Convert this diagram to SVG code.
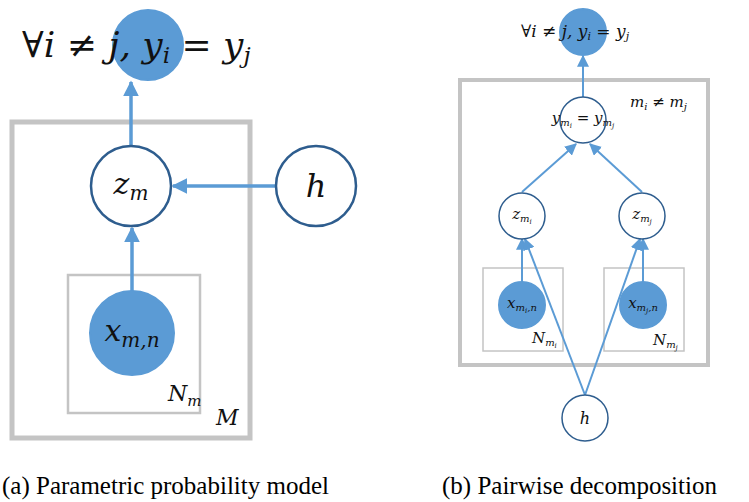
<svg xmlns="http://www.w3.org/2000/svg" width="749" height="502" viewBox="0 0 749 502">
<style>
.f{fill:#5B9BD5;stroke:#5B9BD5;stroke-width:2}
.o{fill:#fff;stroke:#2E5D8E;stroke-width:2.5}
.os{fill:#fff;stroke:#2E5D8E;stroke-width:1.5}
.b{fill:none;stroke:#C4C4C4}
.e{stroke:#5B9BD5;fill:none}
.m{font-family:"DejaVu Serif","Liberation Serif",serif;font-style:italic;fill:#111}
.c{font-family:"Liberation Serif",serif;font-size:25px;fill:#000}
</style>
<defs>
<marker id="a" viewBox="0 0 10 10" refX="9" refY="5" markerWidth="4.5" markerHeight="4.5" orient="auto"><path d="M0,0L10,5L0,10z" fill="#5B9BD5"/></marker>
<marker id="s" viewBox="0 0 10 10" refX="9" refY="5" markerWidth="6" markerHeight="6" orient="auto"><path d="M0,0L10,5L0,10z" fill="#5B9BD5"/></marker>
</defs>
<rect class="b" x="12" y="122" width="238" height="316" stroke-width="5"/>
<rect class="b" x="68" y="275" width="132" height="138" stroke-width="2.5"/>
<rect class="b" x="460" y="80" width="248" height="285" stroke-width="4"/>
<rect class="b" x="483" y="268" width="80" height="83" stroke-width="1.5"/>
<rect class="b" x="604" y="268" width="80" height="83" stroke-width="1.5"/>
<g id="connectors">
<line class="e" x1="131" y1="146" x2="131" y2="82" stroke-width="3.5" marker-end="url(#a)"/>
<line class="e" x1="276" y1="186" x2="173" y2="186" stroke-width="3.5" marker-end="url(#a)"/>
<line class="e" x1="132" y1="291" x2="132" y2="228" stroke-width="3.5" marker-end="url(#a)"/>
<line class="e" x1="583" y1="97" x2="583" y2="56" stroke-width="2" marker-end="url(#s)"/>
<line class="e" x1="522" y1="192" x2="576" y2="144" stroke-width="2" marker-end="url(#s)"/>
<line class="e" x1="642" y1="192" x2="590" y2="144" stroke-width="2" marker-end="url(#s)"/>
<line class="e" x1="522" y1="282" x2="522" y2="239" stroke-width="2" marker-end="url(#s)"/>
<line class="e" x1="643" y1="282" x2="643" y2="239" stroke-width="2" marker-end="url(#s)"/>
<line class="e" x1="585" y1="395" x2="525" y2="239" stroke-width="2" marker-end="url(#s)"/>
<line class="e" x1="585" y1="395" x2="640" y2="239" stroke-width="2" marker-end="url(#s)"/>
</g>
<g id="yl"><circle class="f" cx="148" cy="45" r="35"/><text class="m" x="22" y="57" font-size="36">∀i ≠ j, y<tspan font-size="23" dy="6">i</tspan><tspan dy="-6"> = y</tspan><tspan font-size="23" dy="6">j</tspan></text></g>
<g id="zm"><circle class="o" cx="131" cy="186" r="40"/><text class="m" x="131" y="194" font-size="30" text-anchor="middle">z<tspan font-size="20" dy="6">m</tspan></text></g>
<g id="hl"><circle class="o" cx="316" cy="186" r="40"/><text class="m" x="316" y="197" font-size="32" text-anchor="middle">h</text></g>
<g id="xmn"><circle class="f" cx="132" cy="333" r="42"/><text class="m" x="132" y="341" font-size="30" text-anchor="middle">x<tspan font-size="20" dy="6">m,n</tspan></text></g>
<text class="m" x="168" y="401" font-size="22">N<tspan font-size="15" dy="5">m</tspan></text>
<text class="m" x="216" y="425" font-size="22">M</text>
<g id="yr"><circle class="f" cx="583" cy="32" r="23"/><text class="m" x="521" y="37" font-size="17">∀i ≠ j, y<tspan font-size="11" dy="3">i</tspan><tspan dy="-3"> = y</tspan><tspan font-size="11" dy="3">j</tspan></text></g>
<g id="yy"><circle class="os" cx="583" cy="120" r="23"/><text class="m" x="583" y="123" font-size="15" text-anchor="middle">y<tspan font-size="10" dy="3">m</tspan><tspan font-size="7" dy="2">i</tspan><tspan dy="-5"> = y</tspan><tspan font-size="10" dy="3">m</tspan><tspan font-size="7" dy="2">j</tspan></text></g>
<text class="m" x="630" y="107" font-size="15">m<tspan font-size="10" dy="3">i</tspan><tspan dy="-3"> ≠ m</tspan><tspan font-size="10" dy="3">j</tspan></text>
<g id="zi"><circle class="os" cx="522" cy="216" r="23"/><text class="m" x="522" y="219" font-size="15" text-anchor="middle">z<tspan font-size="10" dy="3">m</tspan><tspan font-size="7" dy="2">i</tspan></text></g>
<g id="zj"><circle class="os" cx="642" cy="216" r="23"/><text class="m" x="642" y="219" font-size="15" text-anchor="middle">z<tspan font-size="10" dy="3">m</tspan><tspan font-size="7" dy="2">j</tspan></text></g>
<g id="xi"><circle class="f" cx="522" cy="305" r="23"/><text class="m" x="522" y="308" font-size="15" text-anchor="middle">x<tspan font-size="10" dy="3">m</tspan><tspan font-size="7" dy="2">i</tspan><tspan font-size="10" dy="-2">,n</tspan></text></g>
<g id="xj"><circle class="f" cx="643" cy="305" r="23"/><text class="m" x="643" y="308" font-size="15" text-anchor="middle">x<tspan font-size="10" dy="3">m</tspan><tspan font-size="7" dy="2">j</tspan><tspan font-size="10" dy="-2">,n</tspan></text></g>
<text class="m" x="532" y="343" font-size="15">N<tspan font-size="10" dy="3">m</tspan><tspan font-size="7" dy="2">i</tspan></text>
<text class="m" x="653" y="345" font-size="15">N<tspan font-size="10" dy="3">m</tspan><tspan font-size="7" dy="2">j</tspan></text>
<g id="hr"><circle class="os" cx="585" cy="418" r="23"/><text class="m" x="585" y="424" font-size="16" text-anchor="middle">h</text></g>
<text class="c" x="2" y="494">(a) Parametric probability model</text>
<text class="c" x="442" y="494">(b) Pairwise decomposition</text>
</svg>
